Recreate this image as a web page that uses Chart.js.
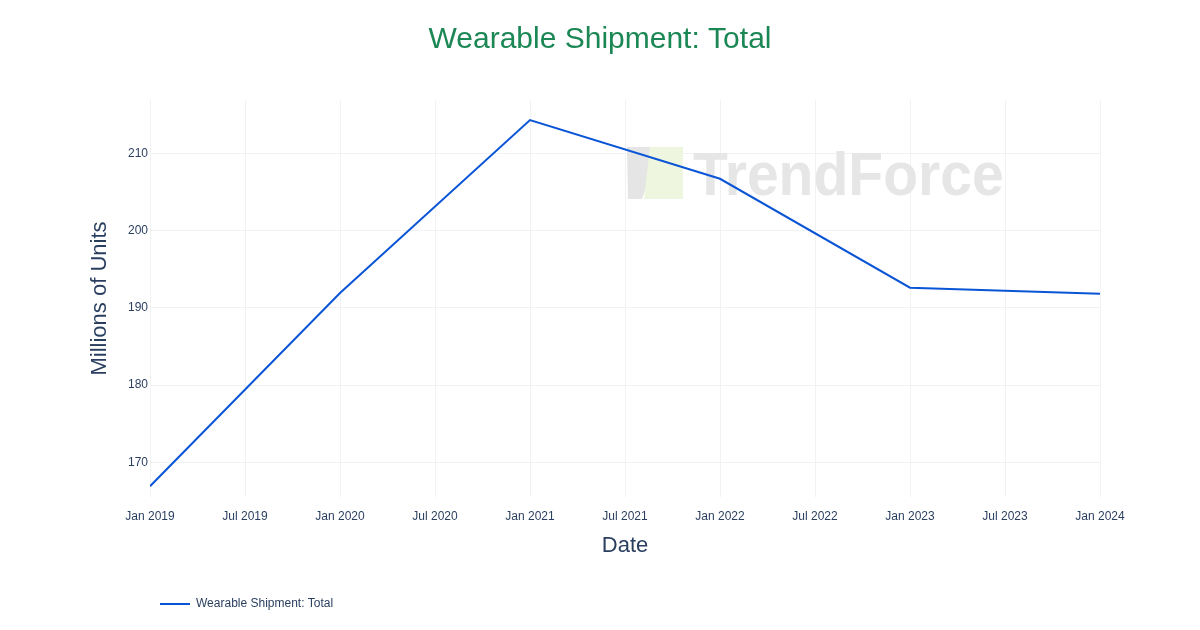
<!DOCTYPE html>
<html>
<head>
<meta charset="utf-8">
<script src="https://cdn.jsdelivr.net/npm/chart.js@4.4.1/dist/chart.umd.min.js"></script>
<style>
  html, body { margin: 0; padding: 0; background: #fff; }
  #wrap { width: 1200px; height: 630px; }
</style>
</head>
<body>
<div id="wrap"><canvas id="lineChart"></canvas></div>
<script>
// data (months since Jan 2019 -> millions of units)
var months = [0, 12, 24, 36, 48, 60];
var shipments = [166.9, 191.9, 214.3, 206.7, 192.6, 191.8];
var xTicks = [0, 6, 12, 18, 24, 30, 36, 42, 48, 54, 60];
var xTickLabels = ['Jan 2019', 'Jul 2019', 'Jan 2020', 'Jul 2020', 'Jan 2021', 'Jul 2021',
                   'Jan 2022', 'Jul 2022', 'Jan 2023', 'Jul 2023', 'Jan 2024'];
var yTicks = [170, 180, 190, 200, 210];

var fontFamily = '"Liberation Sans", Arial, sans-serif';
var textColor = '#2a3f5f';
var gridColor = '#f0f2f4';

// faint TrendForce watermark behind the line
var watermark = {
    id: 'watermark',
    beforeDatasetsDraw: function (chart) {
        var ctx = chart.ctx;
        ctx.save();
        ctx.fillStyle = '#e5e5e5';
        ctx.beginPath();
        ctx.moveTo(627, 147); ctx.lineTo(660, 147); ctx.lineTo(642, 199); ctx.lineTo(628, 199);
        ctx.closePath();
        ctx.fill();
        ctx.fillStyle = '#eef6df';
        ctx.beginPath();
        ctx.moveTo(650, 147); ctx.lineTo(683, 147); ctx.lineTo(683, 199); ctx.lineTo(644, 199);
        ctx.closePath();
        ctx.fill();
        ctx.fillStyle = '#e6e6e6';
        ctx.font = 'bold 62px ' + fontFamily;
        ctx.textBaseline = 'alphabetic';
        ctx.translate(693, 195);
        ctx.scale(0.92, 1);
        ctx.fillText('TrendForce', 0, 0);
        ctx.restore();
    }
};

var ctx = document.getElementById('lineChart').getContext('2d');
var lineChart = new Chart(ctx, {
    type: 'line',
    data: {
        datasets: [{
            label: 'Wearable Shipment: Total',
            data: months.map(function (m, i) { return { x: m, y: shipments[i] }; }),
            borderColor: '#0a55d6',
            backgroundColor: '#0a55d6',
            borderWidth: 2,
            pointRadius: 0,
            pointStyle: 'line',
            tension: 0
        }]
    },
    options: {
        responsive: true,
        maintainAspectRatio: false,
        animation: false,
        layout: { padding: { left: 0, right: 0, top: 0, bottom: 10 } },
        plugins: {
            title: {
                display: true,
                text: 'Wearable Shipment: Total',
                color: '#1b8754',
                font: { family: fontFamily, size: 30, weight: 'normal' },
                padding: { top: 22, bottom: 42 }
            },
            legend: {
                position: 'bottom',
                align: 'start',
                fullSize: false,
                labels: {
                    color: textColor,
                    font: { family: fontFamily, size: 12 },
                    usePointStyle: true,
                    pointStyleWidth: 30,
                    padding: 10
                }
            },
            tooltip: { enabled: false }
        },
        scales: {
            x: {
                type: 'linear',
                min: 0,
                max: 60,
                afterBuildTicks: function (scale) {
                    scale.ticks = xTicks.map(function (v) { return { value: v }; });
                },
                afterFit: function (scale) { scale.height = 91; },
                ticks: {
                    color: textColor,
                    font: { family: fontFamily, size: 12 },
                    padding: 12,
                    maxRotation: 0,
                    autoSkip: false,
                    callback: function (v) { return xTickLabels[xTicks.indexOf(v)]; }
                },
                grid: { color: gridColor, drawTicks: false },
                border: { display: false },
                title: {
                    display: true,
                    text: 'Date',
                    color: textColor,
                    font: { family: fontFamily, size: 22 },
                    padding: { top: 4, bottom: 29 }
                }
            },
            y: {
                min: 165.5,
                max: 216.9,
                afterBuildTicks: function (scale) {
                    scale.ticks = yTicks.map(function (v) { return { value: v }; });
                },
                afterFit: function (scale) { scale.width = 150; },
                ticks: {
                    color: textColor,
                    font: { family: fontFamily, size: 12 },
                    padding: 2
                },
                grid: { color: gridColor, drawTicks: false },
                border: { display: false },
                title: {
                    display: true,
                    text: 'Millions of Units',
                    color: textColor,
                    font: { family: fontFamily, size: 22 },
                    padding: { top: 87, bottom: 4 }
                }
            },
            // empty right margin so the plot ends where the reference does
            yRight: {
                position: 'right',
                afterFit: function (scale) { scale.width = 100; },
                ticks: { display: false },
                grid: { display: false, drawTicks: false },
                border: { display: false }
            }
        }
    },
    plugins: [watermark]
});
</script>
</body>
</html>
